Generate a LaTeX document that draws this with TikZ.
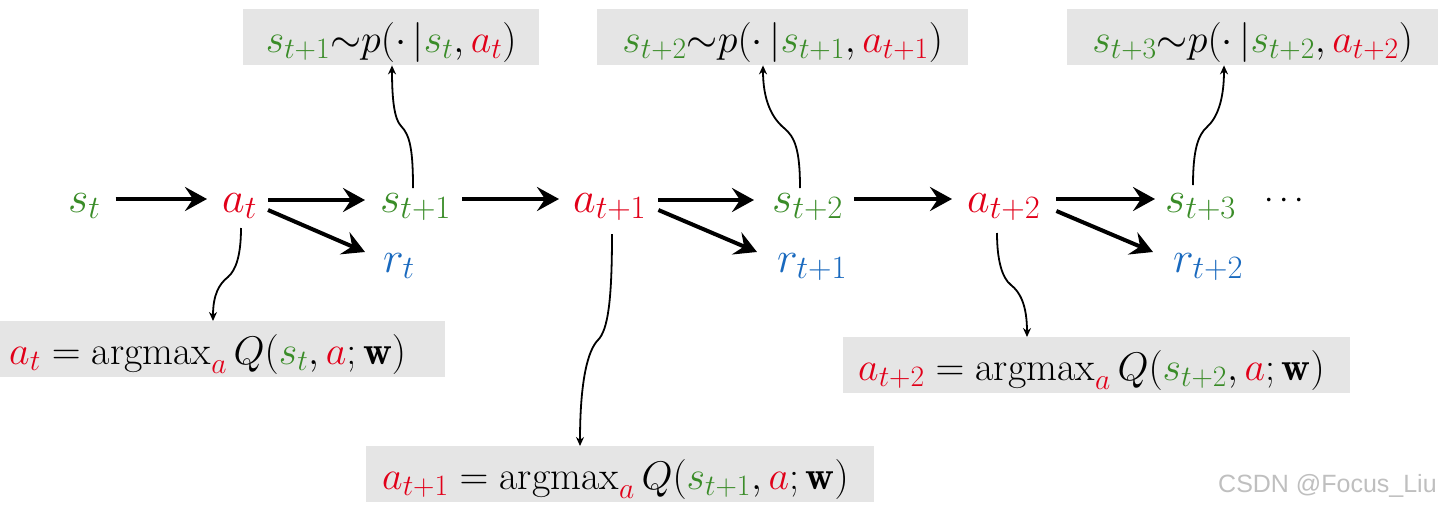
\RequirePackage{fix-cm}
\documentclass[tikz,border=0pt]{standalone}
\usepackage{amsmath}
\usepackage{fontspec}
\newfontfamily\wmfont{Liberation Sans}
\usetikzlibrary{arrows.meta,calc}
\renewcommand{\defaultscriptratio}{.74}
\definecolor{sgreen}{RGB}{58,140,40}
\definecolor{ared}{RGB}{225,0,25}
\definecolor{rblue}{RGB}{25,105,190}
\definecolor{boxgray}{RGB}{229,229,229}
\newcommand{\Sv}[1]{{\color{sgreen}s_{#1}}}
\newcommand{\Av}[1]{{\color{ared}a_{#1}}}
\newcommand{\Rv}[1]{{\color{rblue}r_{#1}}}
\newcommand{\Ar}{{\color{ared}a}}
\begin{document}
\begin{tikzpicture}[x=1pt,y=-1pt,
  mainnode/.style={inner sep=0pt, anchor=base west, font=\fontsize{44}{50}\selectfont},
  topbox/.style={fill=boxgray, inner xsep=0pt, inner ysep=0pt, anchor=north west,
    minimum height=56pt, text height=43pt, text depth=13pt, font=\fontsize{40}{44}\selectfont},
  botbox/.style={fill=boxgray, inner ysep=0pt, anchor=north west, align=left,
    minimum height=56pt, text height=43pt, text depth=13pt, font=\fontsize{40}{44}\selectfont},
  bigarrow/.style={line width=4pt, -{Stealth[length=22pt,width=24pt,inset=8pt]}},
  thinarrow/.style={line width=1.8pt, -{Stealth[length=9pt,width=8pt]}},
]
\useasboundingbox (0,0) rectangle (1442,506);

% main row
\node[mainnode] (st) at (68,212) {$\Sv{t}$};
\node[mainnode] (at) at (222,212) {$\Av{t}$};
\node[mainnode] (s1) at (380,212) {$\Sv{t+1}$};
\node[mainnode] (rt) at (383,272) {$\Rv{t}$};
\node[mainnode] (a1) at (573,212) {$\Av{t+1}$};
\node[mainnode] (s2) at (772,212) {$\Sv{t+2}$};
\node[mainnode] (r1) at (777,272) {$\Rv{t+1}$};
\node[mainnode] (a2) at (967,212) {$\Av{t+2}$};
\node[mainnode] (s3) at (1165,212) {$\Sv{t+3}$};
\node[mainnode] (r2) at (1173,272) {$\Rv{t+2}$};
\node[inner sep=0pt, anchor=base, font=\fontsize{34}{36}\selectfont] (dots) at (1287,208) {$\cdots$};

% boxes
\node[topbox, minimum width=296pt] (t1) at (243,9) {$\Sv{t+1}{\sim}p(\cdot\,|\Sv{t},\Av{t})$};
\node[topbox, minimum width=371pt] (t2) at (597,9) {$\Sv{t+2}{\sim}p(\cdot\,|\Sv{t+1},\Av{t+1})$};
\node[topbox, minimum width=371pt] (t3) at (1067,9) {$\Sv{t+3}{\sim}p(\cdot\,|\Sv{t+2},\Av{t+2})$};
\node[botbox, inner xsep=9pt, text width=427pt] (b1) at (0,321)
  {$\Av{t} = \operatorname{argmax}_{\Ar} Q(\Sv{t},\Ar;\mathbf{w})$};
\node[botbox, inner xsep=16pt, text width=476pt] (b2) at (366,446)
  {$\Av{t+1} = \operatorname{argmax}_{\Ar} Q(\Sv{t+1},\Ar;\mathbf{w})$};
\node[botbox, inner xsep=15pt, text width=477pt] (b3) at (843,337)
  {$\Av{t+2} = \operatorname{argmax}_{\Ar} Q(\Sv{t+2},\Ar;\mathbf{w})$};

% main arrows
\draw[bigarrow] ($(st.base east)+(15,-13)$) -- ($(at.base west)+(-15,-13)$);
\draw[bigarrow] ($(at.base east)+(11,-12)$) -- ($(s1.base west)+(-15,-12)$);
\draw[bigarrow] ($(at.base east)+(11,-2)$) -- ($(rt.base west)+(-18,-20)$);
\draw[bigarrow] ($(s1.base east)+(11,-13)$) -- ($(a1.base west)+(-14,-13)$);
\draw[bigarrow] ($(a1.base east)+(12,-12)$) -- ($(s2.base west)+(-18,-12)$);
\draw[bigarrow] ($(a1.base east)+(12,-2)$) -- ($(r1.base west)+(-20,-20)$);
\draw[bigarrow] ($(s2.base east)+(11,-13)$) -- ($(a2.base west)+(-15,-13)$);
\draw[bigarrow] ($(a2.base east)+(16,-13)$) -- ($(s3.base west)+(-10,-13)$);
\draw[bigarrow] ($(a2.base east)+(16,-1)$) -- ($(r2.base west)+(-20,-20)$);

% curvy connectors to boxes
\draw[thinarrow] ($(s1.base west)+(33,-24)$) .. controls +(0,-38) and +(9,9) .. (401,126)
  .. controls +(-7,-7) and +(0,32) .. ($(t1.south west)+(149,0)$);
\draw[thinarrow] ($(s2.base west)+(28,-24)$) .. controls +(0,-38) and +(11,9) .. (784,128)
  .. controls +(-12,-10) and +(0,35) .. ($(t2.south west)+(166,0)$);
\draw[thinarrow] ($(s3.base west)+(28,-27)$) .. controls +(0,-35) and +(-9,8) .. (1207,127)
  .. controls +(10,-9) and +(0,35) .. ($(t3.south west)+(157,0)$);
\draw[thinarrow] ($(at.base west)+(19,16)$) .. controls +(0,27) and +(8,-7) .. (228,277)
  .. controls +(-9,7) and +(0,-26) .. ($(b1.north west)+(213,0)$);
\draw[thinarrow] ($(a1.base west)+(39,22)$) .. controls +(0,66) and +(10,-10) .. (598,340)
  .. controls +(-10,10) and +(0,-66) .. ($(b2.north west)+(214,0)$);
\draw[thinarrow] ($(a2.base west)+(30,21)$) .. controls +(0,27) and +(-9,-7) .. (1011,285)
  .. controls +(9,7) and +(0,-32) .. ($(b3.north west)+(184,0)$);

% watermark
\node[anchor=base west, inner sep=0pt, text=black!25, font=\wmfont\fontsize{25}{30}\selectfont] (wm) at (1218,492) {CSDN @Focus\_Liu};
\end{tikzpicture}
\end{document}
